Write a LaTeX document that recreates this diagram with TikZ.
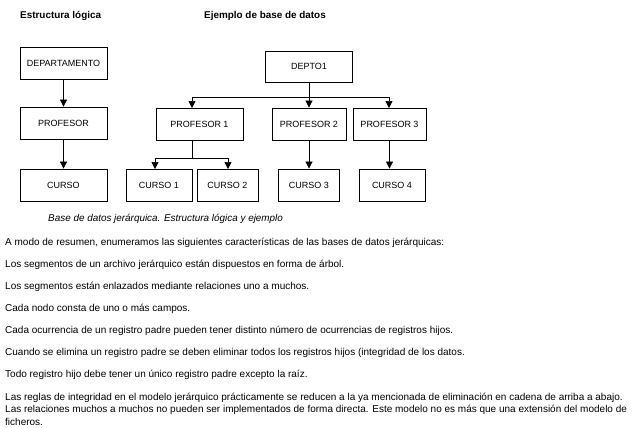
\documentclass[tikz,border=0pt]{standalone}
\usepackage{fontspec}
\setmainfont{Liberation Sans}
\usetikzlibrary{arrows.meta}
\begin{document}
\begin{tikzpicture}[x=1pt,y=-1pt,
  bx/.style={draw,line width=0.8pt,minimum height=32pt,inner sep=0pt,font=\fontsize{9}{11}\selectfont},
  ar/.style={line width=0.7pt,-{Triangle[length=7pt,width=7pt]}},
  ln/.style={line width=0.7pt},
  tx/.style={anchor=west,inner sep=0pt,font=\fontsize{10}{12}\selectfont}]
\useasboundingbox (0,0) rectangle (640,428);
\node[tx,font=\fontsize{9.9}{12}\selectfont\bfseries] (t1) at (20,16) {Estructura lógica};
\node[tx,font=\fontsize{9.9}{12}\selectfont\bfseries] (t2) at (204,16) {Ejemplo de base de datos};
\node[bx,minimum width=87pt] (dep) at (63.5,63) {DEPARTAMENTO};
\node[bx,minimum width=87pt] (pro) at (63.5,123) {PROFESOR};
\node[bx,minimum width=87pt] (cur) at (63.5,185) {CURSO};
\draw[ar] (dep) -- (pro);
\draw[ar] (pro) -- (cur);
\node[bx,minimum width=87pt,minimum height=31pt] (d1) at (309,66.5) {DEPTO1};
\node[bx,minimum width=87pt] (p1) at (199.5,124) {PROFESOR 1};
\node[bx,minimum width=74pt] (p2) at (309,124) {PROFESOR 2};
\node[bx,minimum width=73pt] (p3) at (389.5,124) {PROFESOR 3};
\node[bx,minimum width=66pt] (c1) at (159,185) {CURSO 1};
\node[bx,minimum width=61pt] (c2) at (227.5,185) {CURSO 2};
\node[bx,minimum width=61pt] (c3) at (309,185) {CURSO 3};
\node[bx,minimum width=66pt] (c4) at (392,185) {CURSO 4};
\coordinate (j) at (309,97);
\draw[ln] (d1.south) -- (j);
\draw[ar] (j) -| (192,108);
\draw[ar] (j) -- (p2.north);
\draw[ar] (j) -| (389,108);
\coordinate (k) at (192,158);
\draw[ln] (192,140) -- (k);
\draw[ar] (k) -| (155,169);
\draw[ar] (k) -| (228,169);
\draw[ar] (p2) -- (c3);
\draw[ar] (p3.south) -- (p3.south|-c4.north);
\node[tx,font=\fontsize{9.9}{12}\selectfont\itshape] (cap) at (48,219) {Base de datos jerárquica. Estructura lógica y ejemplo};
\node[tx] (l1) at (5,243) {A modo de resumen, enumeramos las siguientes características de las bases de datos jerárquicas:};
\node[tx] (l2) at (5,265) {Los segmentos de un archivo jerárquico están dispuestos en forma de árbol.};
\node[tx] (l3) at (5,287) {Los segmentos están enlazados mediante relaciones uno a muchos.};
\node[tx] (l4) at (5,309) {Cada nodo consta de uno o más campos.};
\node[tx] (l5) at (5,331) {Cada ocurrencia de un registro padre pueden tener distinto número de ocurrencias de registros hijos.};
\node[tx] (l6) at (5,353) {Cuando se elimina un registro padre se deben eliminar todos los registros hijos (integridad de los datos.};
\node[tx] (l7) at (5,375) {Todo registro hijo debe tener un único registro padre excepto la raíz.};
\node[tx] (l8) at (5,398) {Las reglas de integridad en el modelo jerárquico prácticamente se reducen a la ya mencionada de eliminación en cadena de arriba a abajo.};
\node[tx] (l9) at (5,410) {Las relaciones muchos a muchos no pueden ser implementados de forma directa. Este modelo no es más que una extensión del modelo de};
\node[tx] (l10) at (5,422) {ficheros.};
\end{tikzpicture}
\end{document}
